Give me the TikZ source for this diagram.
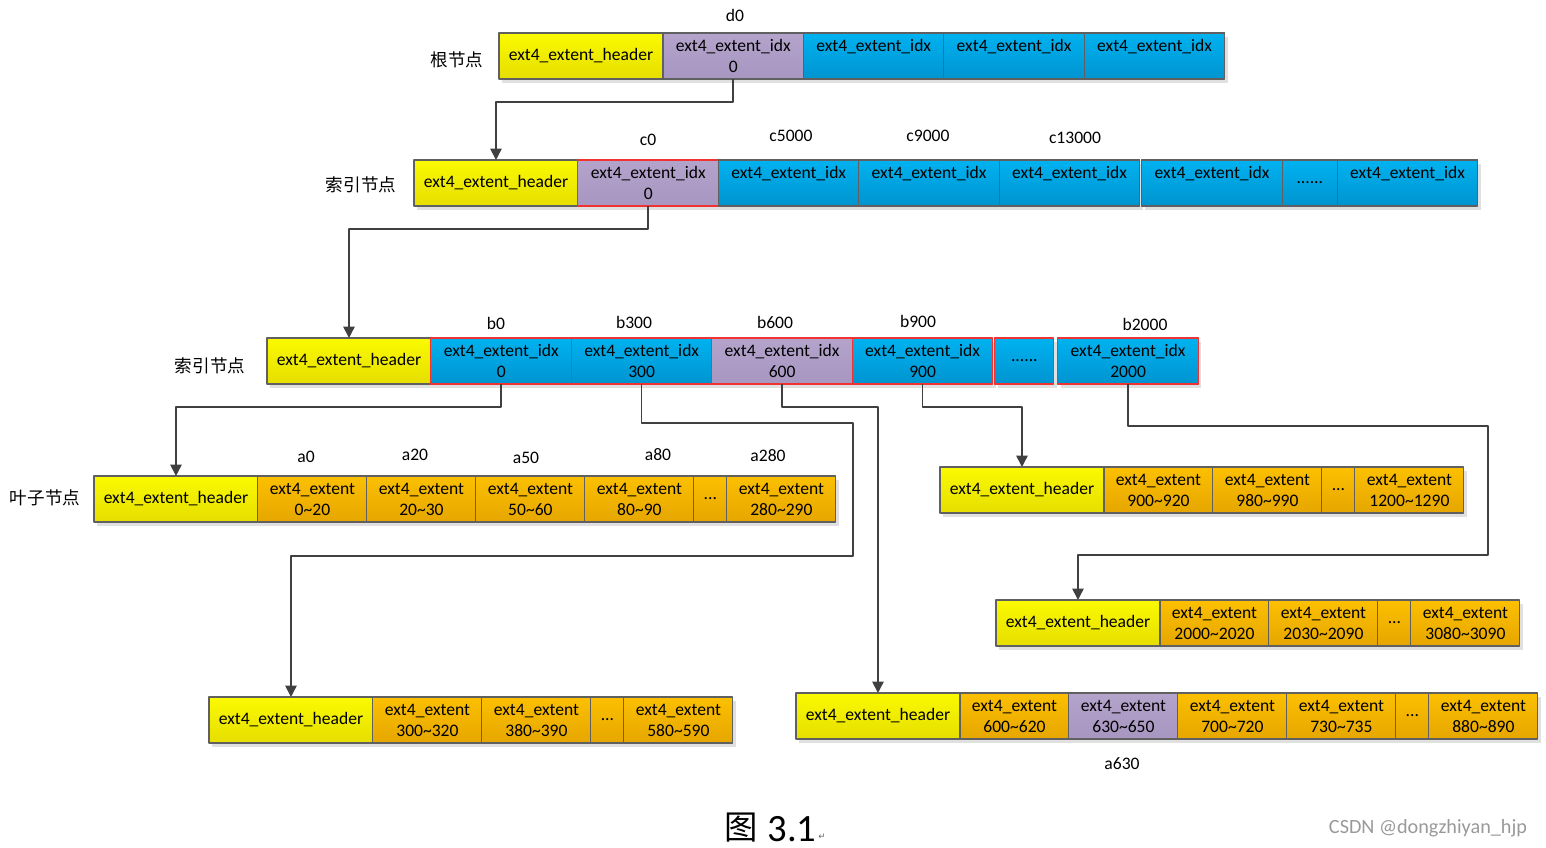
\documentclass[tikz,border=0pt]{standalone}
\usepackage{fontspec}
\setmainfont{Carlito}
\newfontfamily\cjk{Noto Sans CJK SC}
\newfontfamily\djv{DejaVu Sans}
\usepackage{xcolor}
\usetikzlibrary{arrows.meta,positioning,shadows}
\definecolor{hdrtop}{RGB}{250,250,0}
\definecolor{hdrbot}{RGB}{230,222,0}
\definecolor{idxtop}{RGB}{0,178,240}
\definecolor{idxbot}{RGB}{0,148,208}
\definecolor{exttop}{RGB}{252,192,0}
\definecolor{extbot}{RGB}{230,166,0}
\definecolor{seltop}{RGB}{180,164,204}
\definecolor{selbot}{RGB}{166,150,192}
\definecolor{edgegray}{RGB}{96,96,96}
\definecolor{hotred}{RGB}{240,50,50}
\definecolor{linkgray}{RGB}{64,64,64}
\newcommand\idxname{ext4\_extent\_idx}
\newcommand\extname{ext4\_extent}
\newcommand\hdrname{ext4\_extent\_header}
\newcommand\rng[2]{\extname\\#1\textasciitilde#2}

\begin{document}
\begin{tikzpicture}[x=0.02cm,y=-0.02cm,line join=round,
  cell/.style={draw=edgegray,line width=0.6pt,inner sep=0pt,outer sep=0pt,
    minimum height=0.92cm,align=center,font=\fontsize{10}{12}\selectfont,
    drop shadow={shadow xshift=0.06cm,shadow yshift=-0.08cm,fill=black!12,opacity=1}},
  hdr/.style={cell,top color=hdrtop,bottom color=hdrbot,minimum width=3.28cm},
  idx/.style={cell,top color=idxtop,bottom color=idxbot,minimum width=2.81cm},
  pidx/.style={idx,top color=seltop,bottom color=selbot},
  ext/.style={cell,top color=exttop,bottom color=extbot,minimum width=2.18cm},
  pext/.style={ext,top color=seltop,bottom color=selbot},
  gap/.style={ext,minimum width=0.66cm},
  hot/.style={draw=hotred},
  tag/.style={font=\fontsize{10}{12}\selectfont},
  lvl/.style={font=\fontsize{10}{12}\cjk},
  link/.style={draw=linkgray,line width=0.9pt,-{Triangle[length=6.5pt,width=6.5pt]}}]
  \useasboundingbox (0,0) rectangle (1546,848);

  % --- root node ---
  \node[lvl] (lvroot) at (457,60) {根节点};
  \node[hdr,anchor=north west] (rhdr) at (499,33) {\hdrname};
  \node[pidx,right=0pt of rhdr] (ri0) {\idxname\\0};
  \node[idx,right=0pt of ri0] (ri1) {\idxname\\\phantom{0}};
  \node[idx,right=0pt of ri1] (ri2) {\idxname\\\phantom{0}};
  \node[idx,right=0pt of ri2] (ri3) {\idxname\\\phantom{0}};

  % --- index node, level 1 ---
  \node[lvl] (lvidxa) at (361,185) {索引节点};
  \node[hdr,anchor=north west] (chdr) at (414,160) {\hdrname};
  \node[pidx,hot,right=0pt of chdr] (ci0) {\idxname\\0};
  \node[idx,right=0pt of ci0] (ci1) {\idxname\\\phantom{0}};
  \node[idx,right=0pt of ci1] (ci2) {\idxname\\\phantom{0}};
  \node[idx,right=0pt of ci2] (ci3) {\idxname\\\phantom{0}};
  \node[idx,right=0.04cm of ci3] (ci4) {\idxname\\\phantom{0}};
  \node[idx,minimum width=1.1cm,right=0pt of ci4] (cdots) {......};
  \node[idx,right=0pt of cdots] (ci5) {\idxname\\\phantom{0}};

  % --- index node, level 2 ---
  \node[lvl] (lvidxb) at (210,366) {索引节点};
  \node[hdr,anchor=north west] (bhdr) at (267,338) {\hdrname};
  \node[idx,hot,right=0pt of bhdr] (bi0) {\idxname\\0};
  \node[idx,hot,right=0pt of bi0] (bi1) {\idxname\\300};
  \node[pidx,hot,right=0pt of bi1] (bi2) {\idxname\\600};
  \node[idx,hot,right=0pt of bi2] (bi3) {\idxname\\900};
  \node[idx,hot,minimum width=1.18cm,right=0.04cm of bi3] (bdots) {......};
  \node[idx,hot,right=0.08cm of bdots] (bi4) {\idxname\\2000};

  % --- leaf under b0 ---
  \node[lvl] (lvleaf) at (45,498) {叶子节点};
  \node[hdr,anchor=north west] (lahdr) at (94,476) {\hdrname};
  \node[ext,right=0pt of lahdr] (la0) {\rng{0}{20}};
  \node[ext,right=0pt of la0] (la1) {\rng{20}{30}};
  \node[ext,right=0pt of la1] (la2) {\rng{50}{60}};
  \node[ext,right=0pt of la2] (la3) {\rng{80}{90}};
  \node[gap,right=0pt of la3] (ladots) {...};
  \node[ext,right=0pt of ladots] (la4) {\rng{280}{290}};

  % --- leaf under b900 ---
  \node[hdr,anchor=north west] (lbhdr) at (940,467) {\hdrname};
  \node[ext,right=0pt of lbhdr] (lb0) {\rng{900}{920}};
  \node[ext,right=0pt of lb0] (lb1) {\rng{980}{990}};
  \node[gap,right=0pt of lb1] (lbdots) {...};
  \node[ext,right=0pt of lbdots] (lb2) {\rng{1200}{1290}};

  % --- leaf under b2000 ---
  \node[hdr,anchor=north west] (lchdr) at (996,600) {\hdrname};
  \node[ext,right=0pt of lchdr] (lc0) {\rng{2000}{2020}};
  \node[ext,right=0pt of lc0] (lc1) {\rng{2030}{2090}};
  \node[gap,right=0pt of lc1] (lcdots) {...};
  \node[ext,right=0pt of lcdots] (lc2) {\rng{3080}{3090}};

  % --- leaf under b300 ---
  \node[hdr,anchor=north west] (ldhdr) at (209,697) {\hdrname};
  \node[ext,right=0pt of ldhdr] (ld0) {\rng{300}{320}};
  \node[ext,right=0pt of ld0] (ld1) {\rng{380}{390}};
  \node[gap,right=0pt of ld1] (lddots) {...};
  \node[ext,right=0pt of lddots] (ld2) {\rng{580}{590}};

  % --- leaf under b600 ---
  \node[hdr,anchor=north west] (lehdr) at (796,693) {\hdrname};
  \node[ext,right=0pt of lehdr] (le0) {\rng{600}{620}};
  \node[pext,right=0pt of le0] (le1) {\rng{630}{650}};
  \node[ext,right=0pt of le1] (le2) {\rng{700}{720}};
  \node[ext,right=0pt of le2] (le3) {\rng{730}{735}};
  \node[gap,right=0pt of le3] (ledots) {...};
  \node[ext,right=0pt of ledots] (le4) {\rng{880}{890}};

  % block labels
  \foreach \t/\x/\y in {d0/735/15, c0/648/140, c5000/791/136, c9000/928/136,
      c13000/1075/138, b0/496/323, b300/634/322, b600/775/322, b900/918/321,
      b2000/1145/324, a0/306/457, a20/415/455, a50/526/458, a80/658/455,
      a280/768/456, a630/1122/764}
    \node[tag] (lb\t) at (\x,\y) {\t};

  % --- pointers ---
  \coordinate (k1) at (853,423);
  \coordinate (k2) at (853,556);
  \coordinate (k3) at (1488,426);
  \coordinate (k4) at (1488,555);
  \draw[link] (ri0.south) -- ++(0,23) -| (chdr.north);
  \draw[link] (ci0.south) -- ++(0,23) -| (bhdr.north);
  \draw[link] (bi0.south) -- ++(0,23) -| (lahdr.north);
  \draw[link] (bi1.south) |- (k1) -- (k2) -| (ldhdr.north);
  \draw[link] (bi2.south) -- ++(0,23) -| (lehdr.north);
  \draw[link] (bi3.south) -- ++(0,23) -| (lbhdr.north);
  \draw[link] (bi4.south) |- (k3) -- (k4) -| (lchdr.north);

  % caption and mark
  \node (figchar) at (741,828) {\fontsize{19}{19}\cjk 图};
  \node (fignum) at (792,829) {\fontsize{22}{22}\selectfont 3.1};
  \node[text=black!60] (figret) at (822,837) {\fontsize{5}{5}\djv ↵};
  \node[text=black!40] (mark) at (1428,828) {\fontsize{11.5}{12}\selectfont CSDN @dongzhiyan\_hjp};
\end{tikzpicture}
\end{document}
